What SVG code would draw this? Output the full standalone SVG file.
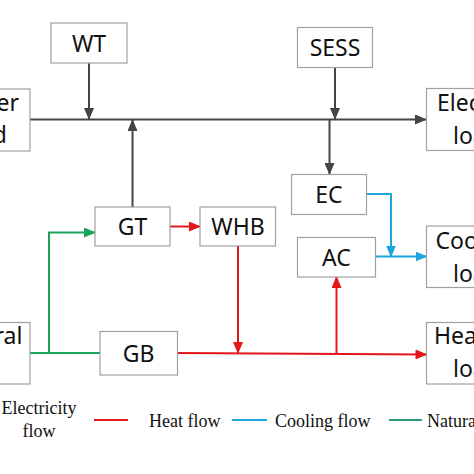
<svg xmlns="http://www.w3.org/2000/svg" width="474" height="474" viewBox="0 0 474 474">
<style>
.box{fill:#fff;stroke:#a0a0a0;stroke-width:1.2}
.lbl{font-family:"Noto Sans","Open Sans",sans-serif;font-size:23px;fill:#111}
.leg{font-family:"Liberation Serif","Times New Roman",serif;font-size:18px;fill:#111}
.e{stroke:#444;stroke-width:2;fill:none}
.h{stroke:#e3161c;stroke-width:2;fill:none}
.c{stroke:#1ba6dd;stroke-width:2;fill:none}
.g{stroke:#1aa35a;stroke-width:2;fill:none}
</style>
<defs>
<marker id="ae" markerUnits="userSpaceOnUse" markerWidth="12" markerHeight="10" refX="11" refY="5" orient="auto"><path d="M0,0 L12,5 L0,10 Z" fill="#444"/></marker>
<marker id="ah" markerUnits="userSpaceOnUse" markerWidth="12" markerHeight="10" refX="11" refY="5" orient="auto"><path d="M0,0 L12,5 L0,10 Z" fill="#e3161c"/></marker>
<marker id="ac" markerUnits="userSpaceOnUse" markerWidth="12" markerHeight="10" refX="11" refY="5" orient="auto"><path d="M0,0 L12,5 L0,10 Z" fill="#1ba6dd"/></marker>
<marker id="ag" markerUnits="userSpaceOnUse" markerWidth="12" markerHeight="10" refX="11" refY="5" orient="auto"><path d="M0,0 L12,5 L0,10 Z" fill="#1aa35a"/></marker>
</defs>
<rect width="474" height="474" fill="#fff"/>
<g id="connectors">
<path class="e" d="M30,119.5 H426" marker-end="url(#ae)"/>
<path class="e" d="M89,63 V119" marker-end="url(#ae)"/>
<path class="e" d="M132.5,207 V120" marker-end="url(#ae)"/>
<path class="e" d="M335,67 V119" marker-end="url(#ae)"/>
<path class="e" d="M329.5,120 V174" marker-end="url(#ae)"/>
<path class="h" d="M170,226.5 H200" marker-end="url(#ah)"/>
<path class="h" d="M238,246 V353" marker-end="url(#ah)"/>
<path class="h" d="M177.5,353 L426.5,354.5" marker-end="url(#ah)"/>
<path class="h" d="M336.5,354 V277" marker-end="url(#ah)"/>
<path class="c" d="M367,194 H391 V256.5" marker-end="url(#ac)"/>
<path class="c" d="M376,256.5 H426.5" marker-end="url(#ac)"/>
<path class="g" d="M30,353 H100"/>
<path class="g" d="M49,353 V232.5 H95" marker-end="url(#ag)"/>
</g>
<g id="power-grid"><rect class="box" x="-60" y="89" width="90" height="62"/><text class="lbl" x="-15" y="111" text-anchor="middle">Power</text><text class="lbl" x="-15" y="143" text-anchor="middle">grid</text></g>
<g id="wt"><rect class="box" x="51" y="23" width="76" height="40"/><text class="lbl" x="89" y="51.5" text-anchor="middle">WT</text></g>
<g id="sess"><rect class="box" x="297.5" y="27.5" width="75" height="40"/><text class="lbl" x="335" y="55.5" text-anchor="middle">SESS</text></g>
<g id="electricity-load"><rect class="box" x="426.5" y="88.5" width="70" height="62"/><text class="lbl" x="437" y="111">Electricity</text><text class="lbl" x="453" y="144">load</text></g>
<g id="ec"><rect class="box" x="291.5" y="174.5" width="75" height="40"/><text class="lbl" x="329" y="202.5" text-anchor="middle">EC</text></g>
<g id="gt"><rect class="box" x="95" y="207" width="75" height="39"/><text class="lbl" x="132.5" y="234.5" text-anchor="middle">GT</text></g>
<g id="whb"><rect class="box" x="200" y="207" width="75.5" height="39"/><text class="lbl" x="238" y="234.5" text-anchor="middle">WHB</text></g>
<g id="ac"><rect class="box" x="297.5" y="237.5" width="78" height="39.5"/><text class="lbl" x="336.5" y="265.5" text-anchor="middle">AC</text></g>
<g id="cooling-load"><rect class="box" x="426.5" y="226" width="70" height="61.5"/><text class="lbl" x="435.5" y="249">Cooling</text><text class="lbl" x="453" y="282">load</text></g>
<g id="natural-gas"><rect class="box" x="-70" y="322.5" width="100" height="61.5"/><text class="lbl" x="-18" y="344" text-anchor="middle">Natural</text><text class="lbl" x="-23" y="376" text-anchor="middle">gas</text></g>
<g id="gb"><rect class="box" x="100" y="331.5" width="77.5" height="43.5"/><text class="lbl" x="138.5" y="361.5" text-anchor="middle">GB</text></g>
<g id="heat-load"><rect class="box" x="426.5" y="322.5" width="70" height="61.5"/><text class="lbl" x="434" y="344">Heat</text><text class="lbl" x="453" y="377">load</text></g>
<g id="legend">
<text class="leg" x="39" y="414" text-anchor="middle">Electricity</text>
<text class="leg" x="39" y="437" text-anchor="middle">flow</text>
<line x1="94" y1="420" x2="128" y2="420" stroke="#e3161c" stroke-width="2"/>
<text class="leg" x="149" y="427">Heat flow</text>
<line x1="232" y1="420" x2="267" y2="420" stroke="#1ba6dd" stroke-width="2"/>
<text class="leg" x="275" y="427">Cooling flow</text>
<line x1="389" y1="420" x2="422" y2="420" stroke="#2a9a78" stroke-width="2"/>
<text class="leg" x="427" y="427">Natural gas flow</text>
</g>
</svg>
